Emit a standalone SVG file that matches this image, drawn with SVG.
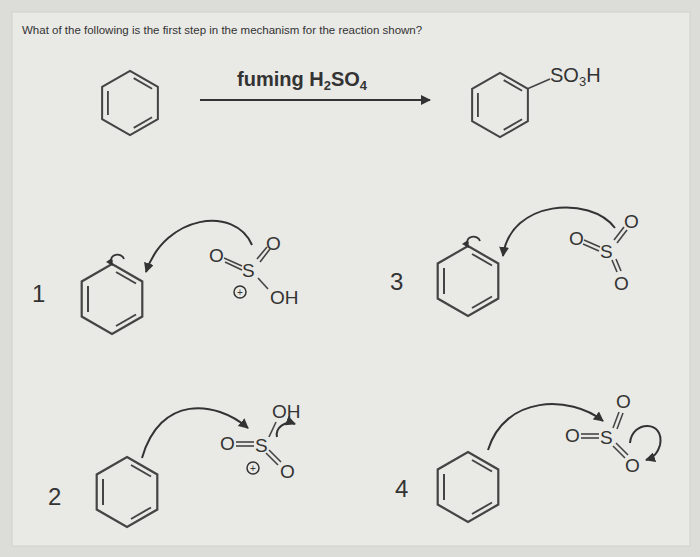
<svg xmlns="http://www.w3.org/2000/svg" width="700" height="557" viewBox="0 0 700 557">
<defs>
<marker id="ah" viewBox="0 0 10 10" refX="9" refY="5" markerWidth="5" markerHeight="5" orient="auto"><path d="M0,0L10,5L0,10z" fill="#333"/></marker>
<g id="bz"><polygon points="0,-35 30.3,-17.5 30.3,17.5 0,35 -30.3,17.5 -30.3,-17.5" fill="none" stroke="#444" stroke-width="2.2"/>
<line x1="4" y1="-27" x2="24" y2="-15.5" stroke="#444" stroke-width="2"/>
<line x1="-24" y1="-13" x2="-24" y2="13" stroke="#444" stroke-width="2"/>
<line x1="4" y1="27" x2="24" y2="15.5" stroke="#444" stroke-width="2"/></g>
</defs>
<style>
text{font-family:"Liberation Sans",Arial,sans-serif;fill:#333}
.a{fill:none;stroke:#333;stroke-width:2;marker-end:url(#ah)}
.b{stroke:#444;stroke-width:1.6}
.at{font-size:19px}
.n{font-size:24px}
</style>
<rect width="700" height="557" fill="#dcdcd8"/>
<rect x="12" y="12" width="678" height="534" fill="#e9e9e6" stroke="#d0d0cc"/>
<text x="22" y="34" font-size="11.5">What of the following is the first step in the mechanism for the reaction shown?</text>
<g id="reactant"><use href="#bz" transform="translate(130,103) scale(0.92)"/></g>
<g id="reaction-arrow"><line x1="200" y1="100" x2="430" y2="100" class="a"/>
<text x="237" y="86" font-size="20" font-weight="bold">fuming H<tspan font-size="13" dy="4">2</tspan><tspan dy="-4">SO</tspan><tspan font-size="13" dy="4">4</tspan></text></g>
<g id="product"><use href="#bz" transform="translate(500,105) scale(0.92)"/><line x1="527" y1="89" x2="550" y2="79" class="b" stroke-width="2"/>
<text x="550" y="82" font-size="20">SO<tspan font-size="13" dy="4">3</tspan><tspan dy="-4">H</tspan></text></g>

<g id="option1"><text x="32" y="302" class="n">1</text><use href="#bz" transform="translate(112,299)"/>
<path d="M112,262 C108,254 122,252 124,259" fill="none" stroke="#333" stroke-width="1.8"/><path d="M106,262 L112,258 L113,266z" fill="#333"/>
<text x="209" y="262" class="at">O</text><text x="242" y="277" class="at">S</text><text x="266" y="250" class="at">O</text>
<line x1="224" y1="258" x2="242" y2="266" class="b"/><line x1="225" y1="262" x2="242" y2="270" class="b"/>
<line x1="257" y1="259" x2="267" y2="247" class="b"/><line x1="260" y1="262" x2="270" y2="249" class="b"/>
<line x1="258" y1="278" x2="268" y2="289" class="b"/>
<text x="270" y="304" class="at">OH</text>
<circle cx="240" cy="292" r="6" fill="none" stroke="#333" stroke-width="1.5"/><text x="240" y="296" font-size="10" text-anchor="middle">+</text></g>

<g id="option3"><text x="390" y="290" class="n">3</text><use href="#bz" transform="translate(468,281)"/>
<path d="M468,244 C464,236 478,234 480,241" fill="none" stroke="#333" stroke-width="1.8"/><path d="M462,244 L468,240 L469,248z" fill="#333"/>
<text x="569" y="245" class="at">O</text><text x="600" y="258" class="at">S</text><text x="624" y="228" class="at">O</text><text x="614" y="290" class="at">O</text>
<line x1="584" y1="240" x2="600" y2="247" class="b"/><line x1="583" y1="244" x2="599" y2="251" class="b"/>
<line x1="614" y1="240" x2="624" y2="227" class="b"/><line x1="617" y1="243" x2="627" y2="230" class="b"/>
<line x1="612" y1="260" x2="617" y2="272" class="b"/><line x1="616" y1="259" x2="621" y2="271" class="b"/></g>

<g id="option2"><text x="48" y="505" class="n">2</text><use href="#bz" transform="translate(127,492)"/>
<text x="220" y="450" class="at">O</text><text x="255" y="452" class="at">S</text><text x="272" y="418" class="at">OH</text><text x="280" y="478" class="at">O</text>
<line x1="236" y1="442" x2="254" y2="442" class="b"/><line x1="236" y1="446" x2="254" y2="446" class="b"/>
<line x1="269" y1="437" x2="276" y2="422" class="b"/>
<line x1="266" y1="453" x2="278" y2="465" class="b"/><line x1="269" y1="450" x2="281" y2="462" class="b"/>
<circle cx="253" cy="468" r="6" fill="none" stroke="#333" stroke-width="1.5"/><text x="253" y="472" font-size="10" text-anchor="middle">+</text></g>

<g id="option4"><text x="395" y="497" class="n">4</text><use href="#bz" transform="translate(468,487)"/>
<text x="565" y="442" class="at">O</text><text x="600" y="444" class="at">S</text><text x="616" y="408" class="at">O</text><text x="625" y="472" class="at">O</text>
<line x1="581" y1="434" x2="599" y2="434" class="b"/><line x1="581" y1="438" x2="599" y2="438" class="b"/>
<line x1="613" y1="428" x2="619" y2="412" class="b"/><line x1="617" y1="429" x2="623" y2="413" class="b"/>
<line x1="613" y1="446" x2="625" y2="458" class="b"/><line x1="616" y1="443" x2="628" y2="455" class="b"/></g>

<g id="connectors">
<path class="a" d="M252,245 C235,205 165,215 146,272"/>
<path class="a" d="M615,228 C590,195 510,200 503,256"/>
<path class="a" d="M142,458 C160,395 215,400 248,428"/>
<path class="a" d="M277,437 C275,428 285,420 295,424"/>
<path class="a" d="M488,450 C505,395 570,395 603,421"/>
<path class="a" d="M630,443 C632,420 665,420 660,445 C657,455 652,458 646,460"/>
</g>
</svg>
